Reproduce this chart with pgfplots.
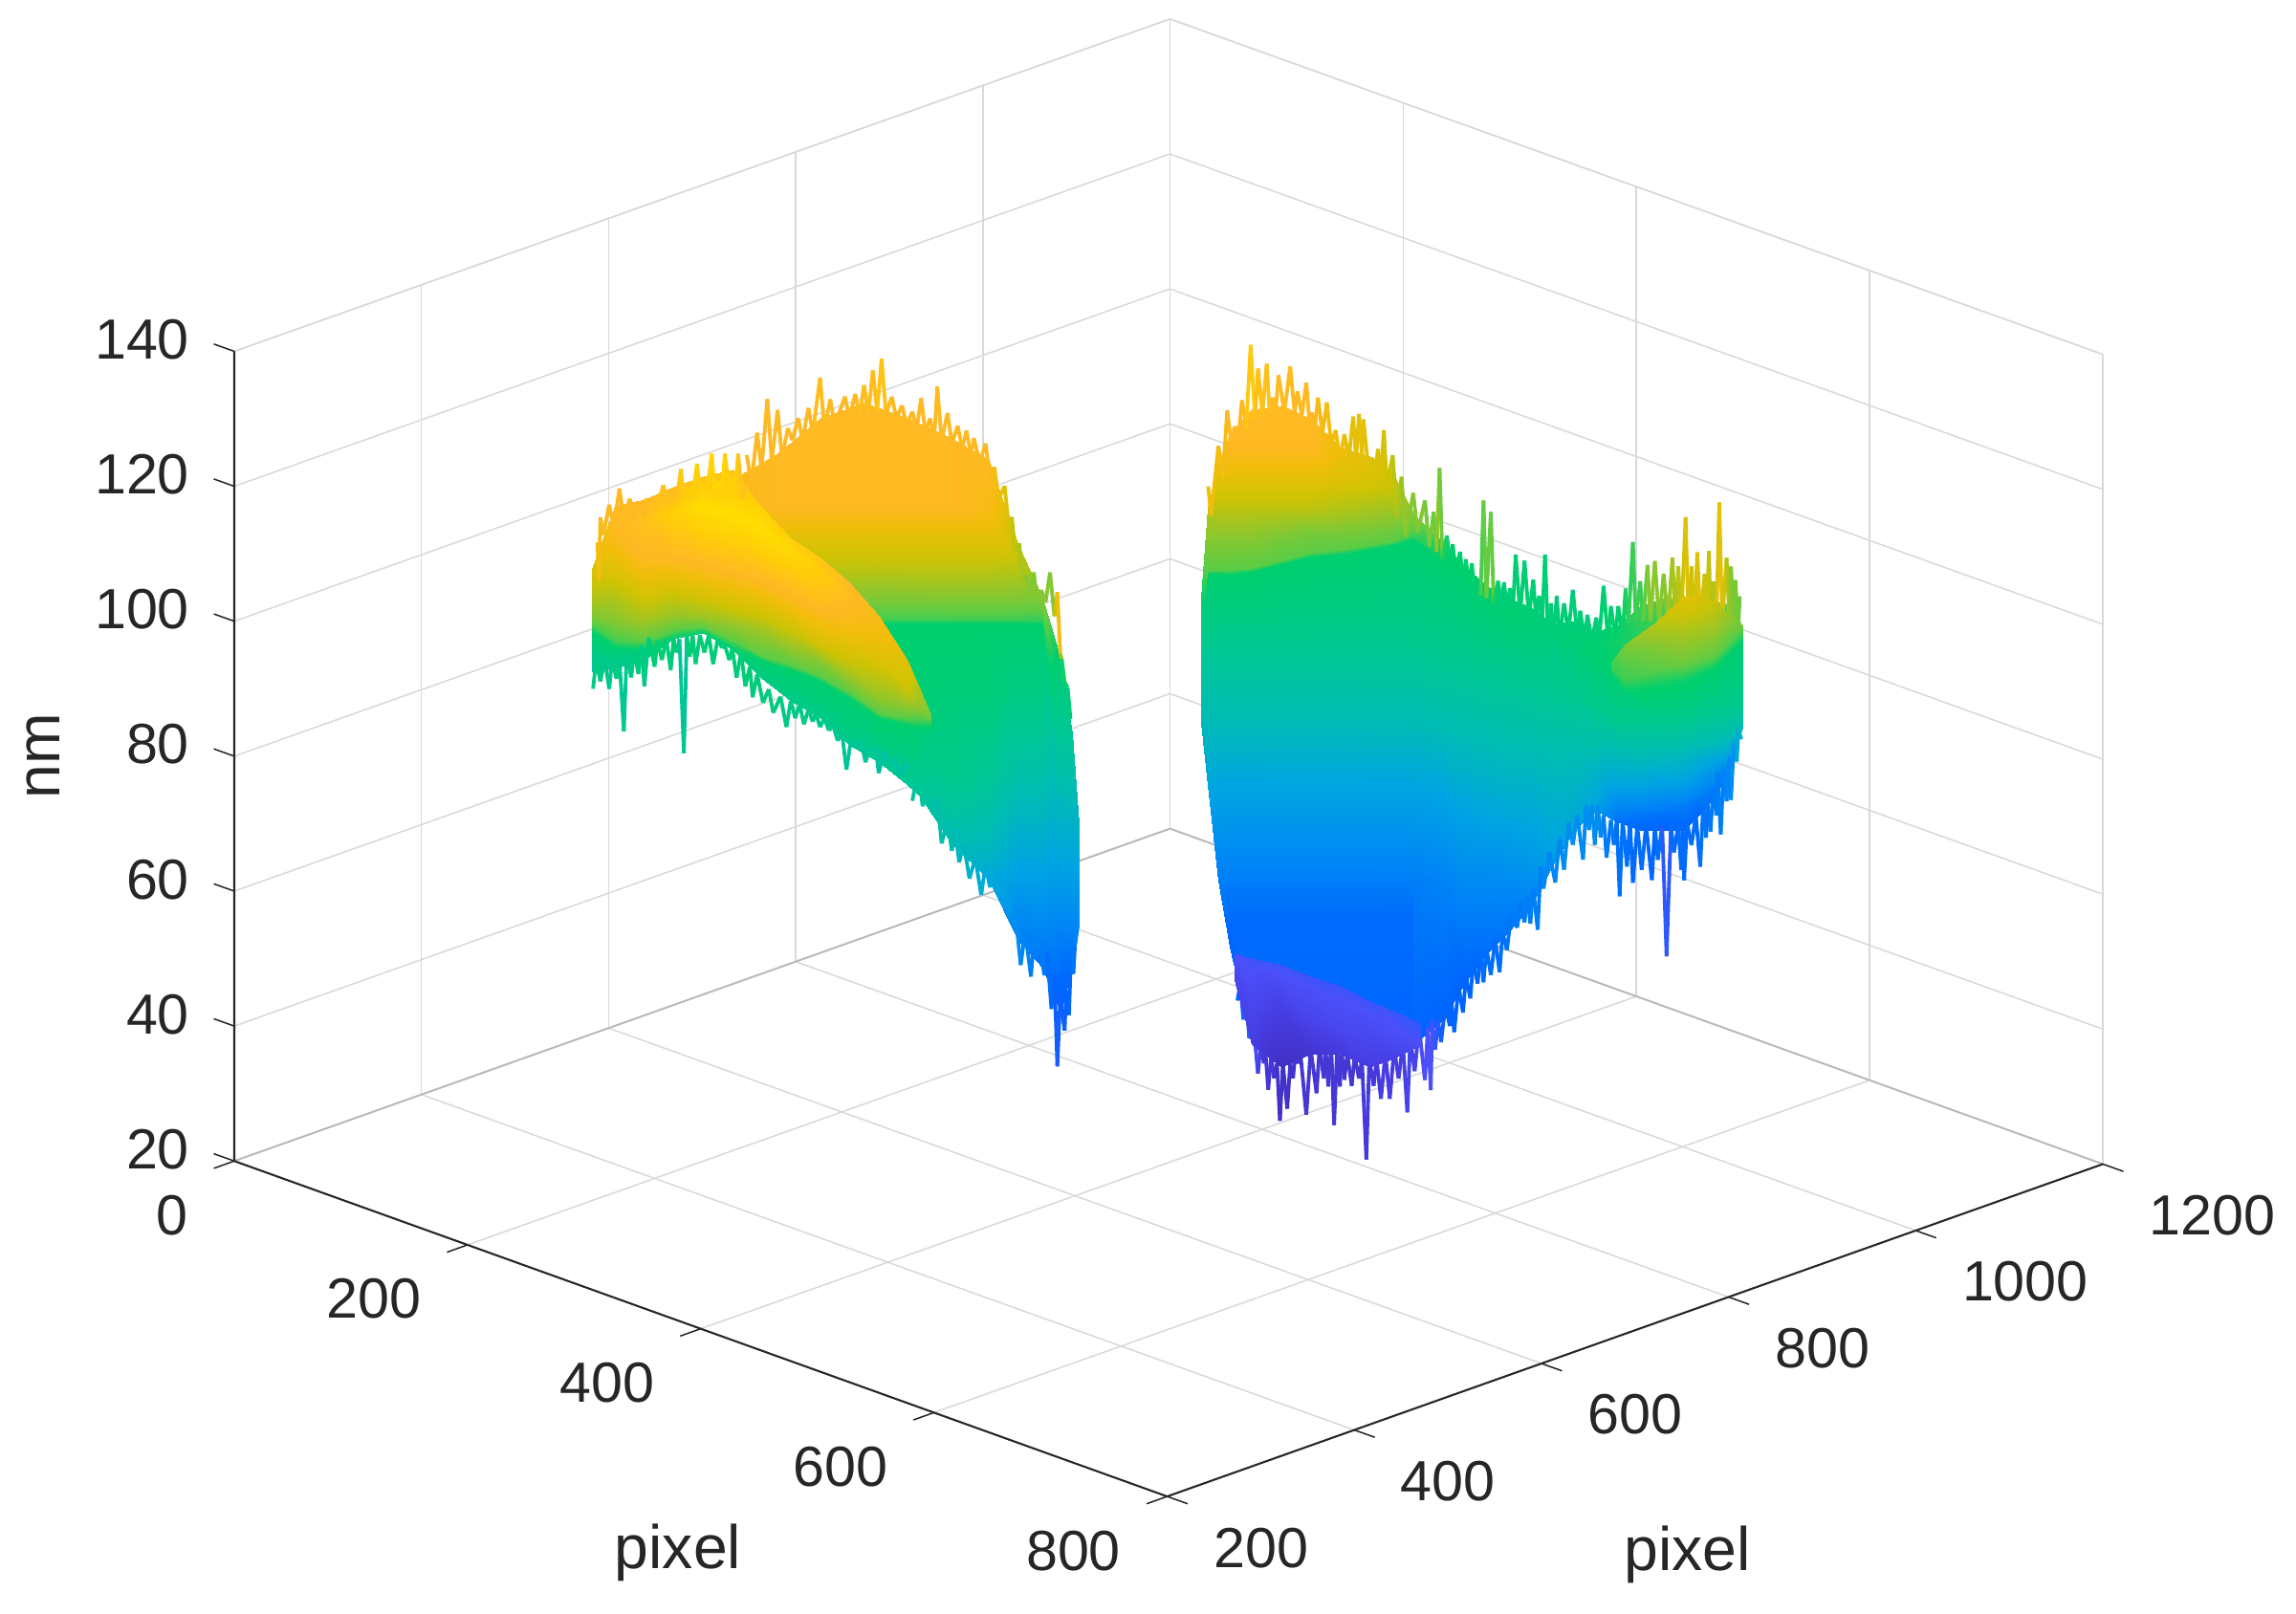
\documentclass[border=0pt]{standalone}
\usepackage{fontspec}
\setmainfont{Liberation Sans}
\usepackage{pgfplots}
\usepackage{pgfplotstable}
\pgfplotsset{compat=1.18}
\usetikzlibrary{calc}
\definecolor{axdark}{gray}{0.15}
\pgfplotsset{colormap={scan}{
 rgb255(0cm)=(55,35,170) rgb255(8cm)=(65,45,190) rgb255(14cm)=(70,60,225) rgb255(19cm)=(75,80,250)
 rgb255(24cm)=(0,100,255) rgb255(32cm)=(0,135,245) rgb255(40cm)=(0,165,225) rgb255(48cm)=(0,188,180)
 rgb255(55cm)=(0,200,145) rgb255(62cm)=(0,207,110) rgb255(68cm)=(90,205,70) rgb255(74cm)=(150,198,40)
 rgb255(80cm)=(205,195,5) rgb255(86cm)=(240,190,10) rgb255(90cm)=(255,185,35) rgb255(95cm)=(255,205,10)
 rgb255(100cm)=(255,222,0)}}
% s = position along the section, z = height in nm, c = colour value
\pgfplotstableread{
s z c
505 121.8 88
505 118.3 88
505 116.2 86
505 112.9 84
505 107.9 78
505 103.1 71
505 101.4 66
505 101.0 62
505 98.8 60
505 97.5 59
505 96.6 58
530 125.0 90
530 117.2 90
530 112.9 84
530 107.9 78
530 103.1 71
530 100.5 66
530 99.9 62
530 97.7 61
530 94.4 60
530 92.3 59
530 90.1 58
560 130.3 90
560 117.2 90
560 112.9 84
560 107.9 78
560 103.1 71
560 100.5 66
560 99.9 62
560 97.7 61
560 94.4 60
560 92.3 59
560 90.1 58
590 132.6 90
590 117.2 90
590 112.9 84
590 107.9 78
590 103.1 71
590 100.5 66
590 99.9 62
590 94.4 60
590 90.1 58
590 87.9 56
590 85.8 55
620 130.3 90
620 117.2 90
620 112.9 84
620 107.9 78
620 103.1 71
620 100.5 66
620 99.9 62
620 90.1 61
620 83.6 58
620 80.3 56
620 77.1 54
650 127.4 90
650 117.2 90
650 112.9 84
650 107.9 78
650 103.1 71
650 100.5 66
650 99.9 62
650 90.1 60
650 77.1 56
650 71.7 52
650 67.3 48
675 124.2 90
675 117.2 88
675 112.9 84
675 107.9 78
675 103.1 71
675 100.5 66
675 99.9 62
675 90.1 60
675 77.1 54
675 68.4 48
675 61.9 42
695 111.8 80
695 109.6 79
695 107.9 78
695 105.3 74
695 103.1 71
695 100.5 66
695 99.9 62
695 90.1 58
695 77.1 50
695 64.1 40
695 53.2 30
712 103.8 72
712 102.7 71
712 101.8 69
712 101.0 67
712 100.5 66
712 100.1 64
712 99.9 62
712 90.1 58
712 77.1 50
712 64.1 40
712 48.9 27
724 94.7 60
724 91.2 58
724 85.8 55
724 81.4 53
724 77.1 50
724 72.8 46
724 68.4 43
724 64.1 40
724 57.6 34
724 51.1 28
724 42.4 22
732 83.6 54
732 81.4 53
732 79.3 51
732 77.1 50
732 72.8 46
732 68.4 43
732 64.1 40
732 59.7 36
732 55.4 32
732 51.1 28
732 48.9 26
737 68.4 43
737 67.3 42
737 66.2 41
737 65.1 40
737 64.1 40
737 63.0 39
737 61.9 38
737 60.8 37
737 59.7 36
737 58.0 35
737 56.5 33
}\backbody
\pgfplotstableread{
s z c
510 124.8 90
513 120.5 90
517 128.1 90
520 122.7 90
524 133.1 90
527 123.8 90
531 131.5 90
534 124.4 90
538 128.8 90
541 127.0 90
545 130.3 90
548 127.0 90
552 131.8 90
555 128.1 90
560 136.3 92
563 128.7 90
567 133.1 90
570 129.2 90
577 133.5 90
580 130.3 90
584 133.9 90
587 130.7 90
590 135.2 92
593 130.9 90
596 137.4 92
599 131.3 90
602 139.1 95
605 130.9 90
609 133.5 90
612 130.3 90
616 132.2 90
619 129.2 90
623 131.3 90
626 128.7 90
629 133.3 90
632 128.1 90
635 130.3 90
638 127.6 90
640 135.0 90
643 127.0 90
647 131.1 90
650 126.6 90
654 129.2 90
657 125.9 90
660 128.5 90
663 124.8 90
665 127.4 90
669 123.7 90
673 126.6 90
676 121.6 88
679 123.1 88
682 118.3 86
686 120.3 84
689 114.0 82
691 115.7 80
693 110.7 78
696 111.8 78
698 106.2 74
701 107.0 73
703 104.2 72
706 107.5 72
708 103.1 72
711 104.9 72
714 103.1 72
717 107.5 72
720 101.0 72
722 104.6 88
724 95.5 86
725 94.7 64
727 91.2 62
729 90.5 62
731 85.8 58
}\backtop
\pgfplotstableread{
s z c
623 73.6 52
627 78.2 54
630 72.8 52
634 76.0 52
637 71.7 50
640 73.8 52
643 67.3 48
647 70.6 50
650 66.2 48
652 69.5 48
655 64.5 46
658 67.3 47
662 62.1 44
666 65.1 45
670 59.7 41
673 64.1 43
676 60.8 40
678 63.6 42
680 60.4 40
683 63.0 41
686 59.3 38
688 60.8 40
690 56.9 36
693 57.6 37
697 49.3 30
700 54.3 34
704 47.6 28
706 53.2 32
708 51.7 30
710 53.2 32
713 47.8 28
715 51.1 29
718 42.8 24
720 47.8 27
722 34.3 20
724 44.5 25
727 39.6 22
728 45.6 25
730 41.9 23
731 48.9 27
733 48.0 26
734 52.1 30
736 55.2 32
}\backbot
\pgfplotstableread{
s z c
404 107.9 82
404 106.2 80
404 103.1 76
404 101.0 72
404 99.2 66
404 98.6 62
404 95.5 58
404 92.7 50
420 117.2 90
420 114.0 90
420 108.6 84
420 103.1 76
420 99.9 72
420 97.1 66
420 96.2 62
420 93.1 54
440 118.3 90
440 115.1 92
440 109.6 90
440 104.2 82
440 100.5 76
440 97.1 68
440 95.8 62
440 94.4 58
460 120.1 90
460 116.2 96
460 109.6 90
460 104.2 80
460 101.0 74
460 98.8 68
460 98.1 64
460 97.5 62
480 121.6 92
480 117.2 100
480 108.6 90
480 103.1 80
480 101.0 75
480 99.2 68
480 98.8 64
480 98.4 62
500 122.7 92
500 116.2 100
500 107.5 90
500 102.0 80
500 99.9 74
500 97.3 68
500 96.6 64
500 96.0 60
520 117.2 96
520 114.0 100
520 106.2 90
520 101.0 80
520 98.4 74
520 95.1 68
520 94.4 62
520 91.8 58
540 112.5 95
540 110.7 98
540 104.2 90
540 98.8 80
540 95.5 72
540 93.8 68
540 92.9 62
540 88.4 57
560 109.6 93
560 107.5 95
560 102.0 90
560 97.1 82
560 94.0 72
560 92.0 68
560 91.4 62
560 85.8 57
580 106.0 90
580 104.2 91
580 99.9 88
580 94.4 80
580 91.8 74
580 89.7 68
580 88.8 62
580 81.9 56
600 101.0 88
600 98.8 87
600 94.9 83
600 91.8 78
600 89.0 74
600 86.6 68
600 85.8 62
600 79.3 55
620 94.4 84
620 93.1 82
620 90.1 80
620 88.4 76
620 87.1 72
620 85.8 68
620 84.9 62
620 76.0 54
636 86.2 70
636 85.8 70
636 85.6 69
636 85.3 68
636 85.1 66
636 84.7 63
636 83.6 58
636 72.8 52
}\frontbody
\pgfplotstableread{
s z c
408 111.8 88
409 106.2 84
410 115.5 90
412 112.9 88
416 117.4 90
419 114.0 90
423 119.8 90
426 115.1 90
430 118.3 90
433 115.1 90
437 117.2 90
440 115.7 90
441 118.3 90
448 116.6 92
453 120.3 92
456 117.2 92
460 118.3 92
462 117.9 92
465 122.7 94
467 118.3 94
470 120.1 94
473 118.7 96
476 123.5 96
478 119.4 96
481 120.5 96
483 119.4 96
486 125.0 96
488 119.4 98
491 120.9 98
493 119.4 98
495 125.0 96
498 119.4 96
500 121.6 96
502 119.4 96
504 125.0 94
507 118.3 92
510 120.5 92
}\fronttop
\pgfplotstableread{
s z c
405 90.1 54
407 94.4 60
410 91.2 56
413 94.4 60
416 90.1 53
418 94.4 59
421 91.6 56
423 94.4 60
426 83.8 50
428 95.5 60
431 91.8 56
433 95.5 60
436 92.3 56
438 96.6 62
440 90.5 54
443 97.7 62
447 93.4 58
449 97.3 62
452 94.4 60
455 97.5 62
458 92.9 56
460 97.5 62
462 95.5 60
464 97.5 62
467 80.6 46
469 97.9 62
471 94.9 58
473 98.1 62
475 93.8 58
478 98.1 62
481 95.5 60
484 98.1 62
487 93.8 58
490 97.5 62
493 96.2 60
495 96.6 62
498 94.4 58
500 96.2 62
503 91.8 58
506 95.5 62
509 90.5 58
512 93.4 62
514 88.9 57
517 92.3 62
521 88.1 56
525 90.1 62
528 86.6 56
533 89.0 62
537 84.5 54
540 88.4 60
543 85.8 54
546 87.9 60
549 84.9 54
552 87.1 60
555 85.3 54
557 86.6 60
560 84.5 54
563 85.8 58
566 84.0 54
569 84.7 58
572 82.5 52
575 83.6 58
578 78.2 50
581 82.5 56
585 81.4 52
588 82.5 56
591 79.3 51
594 81.4 56
596 81.0 52
598 81.4 56
600 77.7 49
604 81.0 54
608 78.8 51
611 79.9 54
615 77.3 49
618 79.3 54
620 78.2 51
}\frontbot
\pgfplotstableread{
s z c
820 103.8 62
820 102.7 62
820 101.6 61
820 100.5 60
820 99.4 58
820 98.8 57
820 98.1 56
820 95.5 54
820 92.7 52
820 90.1 50
820 87.9 49
820 86.2 47
820 85.3 46
825 117.2 78
825 115.1 75
825 112.2 72
825 110.1 70
825 107.9 68
825 107.3 62
825 98.1 56
825 92.3 52
825 85.8 48
825 82.5 46
825 80.3 44
825 78.2 42
825 76.0 40
832 123.8 87
832 121.6 84
832 117.0 78
832 112.2 72
832 107.9 68
832 107.3 62
832 98.1 56
832 85.8 48
832 76.0 40
832 71.7 37
832 68.4 35
832 65.1 32
832 61.9 30
840 128.1 90
840 126.3 90
840 121.6 84
840 117.0 78
840 112.2 72
840 107.9 68
840 107.3 62
840 98.1 56
840 85.8 48
840 76.0 40
840 66.2 33
840 56.9 26
840 52.1 24
855 131.8 90
855 126.3 90
855 121.6 84
855 117.0 78
855 112.2 72
855 108.3 68
855 107.7 62
855 98.1 56
855 85.8 48
855 76.0 40
855 66.2 33
855 56.9 26
855 37.6 24
875 132.4 90
875 126.3 90
875 121.6 84
875 117.0 78
875 112.7 71
875 109.4 68
875 108.8 62
875 98.1 56
875 85.8 48
875 76.0 40
875 66.2 33
875 56.9 26
875 34.3 24
895 130.3 90
895 126.3 90
895 121.6 84
895 117.0 78
895 113.5 71
895 110.5 68
895 109.9 62
895 98.1 56
895 85.8 48
895 76.0 40
895 66.2 33
895 56.9 26
895 36.3 24
915 126.3 86
915 124.4 85
915 120.9 82
915 117.0 77
915 113.5 71
915 110.9 68
915 110.3 62
915 98.1 56
915 85.8 48
915 76.0 40
915 66.2 33
915 56.9 26
915 36.3 24
935 124.8 84
935 123.1 83
935 120.5 81
935 117.0 76
935 114.0 71
935 111.6 68
935 110.9 62
935 98.1 56
935 85.8 48
935 76.0 40
935 66.2 33
935 56.9 26
935 34.3 24
950 122.7 82
950 121.6 81
950 119.4 79
950 117.0 75
950 114.4 71
950 112.2 68
950 111.6 62
950 98.1 56
950 85.8 48
950 76.0 40
950 66.2 33
950 56.9 26
950 35.4 24
965 116.2 72
965 115.5 71
965 114.8 70
965 114.2 69
965 113.5 68
965 113.1 66
965 112.5 62
965 98.1 56
965 85.8 48
965 76.0 40
965 66.2 33
965 56.9 26
965 37.6 24
}\rightone
\pgfplotstableread{
s z c
965 116.2 72
965 113.1 66
965 112.5 62
965 98.1 56
965 85.8 48
965 76.0 40
965 61.9 30
965 37.6 24
985 112.2 63
985 111.4 62
985 109.6 62
985 98.1 57
985 85.8 49
985 74.9 40
985 61.9 31
985 41.3 24
1000 108.6 62
1000 107.5 62
1000 105.3 61
1000 94.4 55
1000 83.6 48
1000 72.8 40
1000 61.9 33
1000 46.7 24
1015 105.7 62
1015 104.9 62
1015 103.1 61
1015 93.4 55
1015 82.5 48
1015 72.8 41
1015 61.9 33
1015 51.1 26
1030 103.8 62
1030 102.7 62
1030 101.0 61
1030 92.3 55
1030 81.4 48
1030 71.7 41
1030 61.9 33
1030 54.3 28
1045 102.7 61
1045 101.8 61
1045 99.9 60
1045 91.2 55
1045 81.4 48
1045 72.8 42
1045 64.1 36
1045 58.0 31
1060 99.9 60
1060 98.8 60
1060 96.6 58
1060 89.0 54
1060 81.4 49
1060 73.8 44
1060 67.3 40
1060 64.1 37
1075 100.5 61
1075 99.2 61
1075 96.6 60
1075 89.0 55
1075 81.4 49
1075 77.1 46
1075 72.8 43
1075 69.5 40
1090 99.0 62
1090 97.7 62
1090 94.4 61
1090 87.9 56
1090 82.5 50
1090 78.2 45
1090 74.9 42
1090 72.3 38
1105 99.9 63
1105 96.6 63
1105 92.3 62
1105 85.8 56
1105 80.3 47
1105 76.0 40
1105 72.8 32
1105 70.6 27
1120 102.7 66
1120 96.6 64
1120 90.1 62
1120 85.3 55
1120 80.6 48
1120 76.0 40
1120 71.7 28
1120 69.5 24
1135 103.8 68
1135 96.6 64
1135 90.1 62
1135 84.7 54
1135 80.3 47
1135 76.0 38
1135 71.7 27
1135 69.5 24
1150 103.8 70
1150 96.6 64
1150 90.5 62
1150 84.7 54
1150 81.4 48
1150 77.1 40
1150 72.8 29
1150 69.5 24
1165 103.8 70
1165 96.6 64
1165 92.3 62
1165 85.8 54
1165 82.5 48
1165 79.3 40
1165 74.9 30
1165 72.8 25
1178 103.1 68
1178 97.7 64
1178 94.9 62
1178 87.9 56
1178 84.0 50
1178 81.4 44
1178 79.3 36
1178 77.1 30
1190 99.9 66
1190 98.4 63
1190 97.5 62
1190 90.1 57
1190 87.9 55
1190 86.2 52
1190 85.3 48
1190 84.7 46
}\righttwo
\pgfplotstableread{
s z c
1100 94.4 66
1100 94.0 66
1100 93.6 66
1100 93.1 64
1110 97.1 72
1110 94.4 68
1110 91.8 66
1110 90.1 62
1130 100.3 78
1130 96.6 72
1130 93.4 68
1130 90.5 62
1150 104.2 84
1150 98.8 76
1150 94.4 70
1150 91.8 63
1170 103.6 80
1170 98.8 74
1170 95.5 69
1170 93.6 63
1190 99.9 70
1190 99.2 68
1190 98.6 66
1190 97.9 63
}\rightlobe
\pgfplotstableread{
s z c
843 51.1 19
843 48.4 17
843 47.1 16
855 50.4 20
855 44.5 17
855 37.6 14
875 49.5 20
875 42.4 14
875 34.3 9
895 47.8 20
895 40.2 15
895 36.3 11
915 46.3 20
915 40.2 17
915 36.3 13
935 44.1 20
935 39.1 17
935 34.3 14
950 42.8 20
950 39.1 18
950 35.4 15
970 40.8 21
970 39.1 20
970 37.6 18
}\rightviolet
\pgfplotstableread{
s z c
825 120.3 88
827 116.0 84
832 126.3 88
835 121.6 86
838 131.6 90
841 126.3 90
843 129.2 90
846 128.1 90
848 133.1 90
851 129.2 90
854 141.3 97
857 130.3 92
859 137.8 92
862 131.1 92
865 138.5 92
867 131.1 92
869 133.5 90
871 131.3 90
873 136.8 91
877 131.3 90
881 138.1 91
884 131.3 90
886 134.4 90
889 130.9 90
892 135.7 90
894 130.3 90
896 131.3 90
898 129.2 90
900 133.5 88
903 128.1 88
906 132.8 88
909 126.6 86
912 128.7 86
915 124.4 86
918 128.1 86
921 124.4 84
924 130.7 84
926 124.4 84
928 131.1 84
930 124.8 84
931 130.3 84
934 123.7 84
937 124.6 82
939 122.7 82
941 125.9 82
943 122.2 82
945 128.7 82
947 120.5 80
951 125.0 80
954 115.7 76
957 121.8 76
960 112.9 72
965 119.4 72
968 113.5 72
973 118.3 72
976 111.4 70
979 116.6 70
981 110.7 70
983 123.1 76
985 109.6 64
988 113.1 64
990 109.6 62
992 111.8 62
994 107.5 62
997 110.7 62
999 106.2 62
1001 109.6 62
1003 105.3 62
1005 109.0 62
1007 104.9 62
1009 106.4 62
1011 104.2 62
1013 118.3 72
1015 103.8 66
1018 116.6 72
1020 103.1 66
1023 106.4 60
1025 102.7 60
1027 106.2 60
1029 102.3 60
1031 105.3 60
1033 101.8 60
1035 110.3 62
1038 101.4 60
1041 109.4 62
1044 101.0 60
1047 106.6 62
1049 100.5 60
1051 104.2 60
1053 99.9 60
1055 110.3 62
1057 98.8 60
1059 103.1 60
1061 98.4 60
1063 104.2 60
1065 98.1 60
1068 103.1 60
1071 98.8 60
1074 105.1 60
1077 98.4 60
1079 102.0 60
1082 97.9 60
1084 101.4 60
1087 97.5 60
1090 101.0 60
1092 97.7 60
1095 105.7 62
1098 97.7 62
1100 102.7 62
1103 97.9 62
1105 102.7 62
1108 98.4 62
1110 105.3 64
1112 100.1 64
1115 112.2 66
1117 100.5 66
1120 106.4 66
1122 100.5 66
1125 108.8 72
1127 100.5 72
1130 109.4 74
1133 100.5 72
1136 107.5 72
1139 100.5 74
1142 109.9 76
1144 100.5 76
1146 108.6 78
1148 100.5 78
1151 115.9 84
1153 100.5 82
1155 108.6 80
1157 100.5 80
1159 110.7 84
1161 100.5 82
1164 107.5 80
1165 100.5 80
1167 110.9 80
1168 100.5 78
1170 106.4 76
1172 100.5 78
1174 118.1 88
1176 100.5 80
1179 109.9 82
1181 99.9 72
1182 108.6 74
1184 99.9 70
1185 106.6 72
1187 99.4 70
1188 104.2 70
}\righttop
\pgfplotstableread{
s z c
845 44.1 24
847 46.7 24
849 41.3 22
851 44.5 23
853 38.5 20
856 40.2 22
859 33.3 12
861 38.0 18
863 34.8 10
864 36.9 14
866 30.9 10
868 35.9 14
870 32.6 10
872 34.8 12
874 26.3 8
876 34.8 12
879 28.1 8
881 34.8 12
883 32.6 10
884 35.4 12
886 34.8 12
888 36.3 14
892 27.2 10
895 37.0 14
899 30.4 10
901 37.0 14
904 32.6 10
905 37.6 14
907 31.4 10
909 37.6 14
911 25.7 10
913 37.0 14
915 31.4 10
916 37.0 14
918 32.4 10
920 36.3 14
923 31.5 10
925 35.9 14
928 32.6 10
930 35.4 14
933 20.6 12
935 35.4 14
938 31.5 12
940 35.4 14
943 29.6 12
946 36.3 16
949 29.6 12
952 37.0 16
955 32.6 12
958 37.6 16
961 27.6 14
963 38.5 18
966 33.7 14
969 40.2 18
973 32.4 18
975 40.2 20
977 30.9 18
978 41.3 20
980 36.9 20
982 41.3 22
984 38.0 22
987 43.4 24
990 40.4 24
991 44.5 24
993 39.5 24
996 46.3 24
999 42.4 24
1001 47.8 24
1004 44.5 24
1006 50.0 26
1009 46.7 24
1011 51.5 26
1013 46.9 26
1015 52.1 26
1018 48.0 26
1021 53.2 26
1024 48.4 26
1026 54.3 28
1029 51.7 26
1032 57.1 30
1036 55.0 28
1038 58.7 30
1041 55.8 28
1043 59.7 32
1045 55.6 28
1047 60.8 32
1050 54.7 28
1052 64.1 32
1054 60.8 30
1058 66.2 34
1062 61.7 30
1065 68.4 34
1068 63.6 32
1071 70.6 36
1074 67.3 32
1077 71.7 38
1081 65.1 28
1083 73.2 38
1085 69.5 30
1087 73.2 38
1089 67.3 30
1091 73.2 38
1093 68.4 30
1095 71.7 34
1097 65.4 26
1100 71.0 32
1102 67.3 26
1104 71.0 30
1106 59.7 24
1108 71.0 30
1111 64.1 24
1113 71.0 30
1115 61.7 22
1118 70.2 28
1121 63.6 24
1124 70.2 28
1128 62.1 22
1130 70.2 28
1132 65.1 24
1135 70.2 28
1138 50.8 14
1141 70.2 28
1143 66.2 24
1146 70.2 28
1148 63.6 24
1149 70.2 28
1150 62.1 23
1152 70.6 28
1155 67.3 24
1158 71.7 28
1161 64.1 24
1163 73.2 30
1165 68.4 26
1166 73.8 30
1168 69.3 26
1170 76.0 32
1172 71.7 26
1173 78.2 34
1175 68.9 26
1177 78.8 34
1179 73.8 28
1181 80.3 36
1182 74.0 28
1184 82.5 40
1186 79.7 36
1187 84.7 46
1189 83.0 44
}\rightbot
\begin{document}
\begin{tikzpicture}
\begin{axis}[
  x={(0.2389pt,-0.0859pt)}, y={(0.1917pt,0.0681pt)}, z={(0pt,1.3825pt)},
  xmin=0, xmax=800, ymin=200, ymax=1200, zmin=20, zmax=140,
  xtick={0,200,...,800}, ytick={200,400,...,1200}, ztick={20,40,...,140},
  grid=major, grid style={gray!30, line width=.3pt},
  axis line style={gray!30, line width=.3pt},
  major tick length=0pt,
  /pgf/number format/assume math mode=true, /pgf/number format/1000 sep={},
  tick label style={font=\fontsize{11.6}{14}\selectfont, color=axdark},
  xticklabel style={anchor=east, xshift=-6pt, yshift=-11.1pt},
  yticklabel style={anchor=west, xshift=6pt, yshift=-10.5pt},
  zticklabel style={anchor=east, xshift=-5.7pt, yshift=2.4pt},
  label style={font=\fontsize{12.6}{15}\selectfont, color=axdark},
  xlabel={pixel}, ylabel={pixel}, zlabel={nm},
  xlabel style={at={(axis cs:659,-147,20)}, anchor=center},
  ylabel style={at={(axis cs:1092,392,20)}, anchor=center},
  zlabel style={at={(axis cs:-81.6,98,80)}, anchor=center, rotate=0},
  colormap name=scan, point meta=explicit, point meta min=0, point meta max=100,
  table/x expr={(\thisrow{s}-160)*0.628}, table/y expr={200+(\thisrow{s}-160)*0.7825},
  table/z=z, table/meta=c, clip=false,
  spikes/.style={mesh, mesh/rows=1, line width=.75pt, line cap=butt, line join=miter},
]
\draw[gray!55, line width=.35pt] (axis cs:0,200,20) -- (axis cs:0,1200,20) -- (axis cs:800,1200,20);
\addplot3[surf, shader=interp, mesh/cols=11, mesh/rows=12] table {\backbody};
\addplot3[spikes] table {\backtop};
\addplot3[spikes] table {\backbot};
\addplot3[surf, shader=interp, mesh/cols=8, mesh/rows=13] table {\frontbody};
\addplot3[spikes] table {\fronttop};
\addplot3[spikes] table {\frontbot};
\addplot3[surf, shader=interp, mesh/cols=13, mesh/rows=11] table {\rightone};
\addplot3[surf, shader=interp, mesh/cols=8, mesh/rows=16] table {\righttwo};
\addplot3[spikes] table {\righttop};
\addplot3[spikes] table {\rightbot};
\addplot3[surf, shader=interp, mesh/cols=4, mesh/rows=6] table {\rightlobe};
\addplot3[surf, shader=interp, mesh/cols=3, mesh/rows=8] table {\rightviolet};
\draw[axdark, line width=.4pt] (axis cs:0,200,140) -- (axis cs:0,200,20) -- (axis cs:800,200,20) -- (axis cs:800,1200,20);
\pgfplotsinvokeforeach{0,200,400,600,800}{\draw[axdark, line width=.3pt] (axis cs:#1,200,20) -- ++(-4.2pt,-1.5pt);}
\pgfplotsinvokeforeach{200,400,600,800,1000,1200}{\draw[axdark, line width=.3pt] (axis cs:800,#1,20) -- ++(4.2pt,-1.5pt);}
\pgfplotsinvokeforeach{20,40,60,80,100,120,140}{\draw[axdark, line width=.3pt] (axis cs:0,200,#1) -- ++(-4.2pt,1.5pt);}
\coordinate (A) at (axis cs:0,200,20);
\end{axis}
\pgfresetboundingbox
\path[use as bounding box] ($(A)+(-48pt,237.9pt)$) rectangle ($(A)+(422.4pt,-92.7pt)$);
\end{tikzpicture}
\end{document}
